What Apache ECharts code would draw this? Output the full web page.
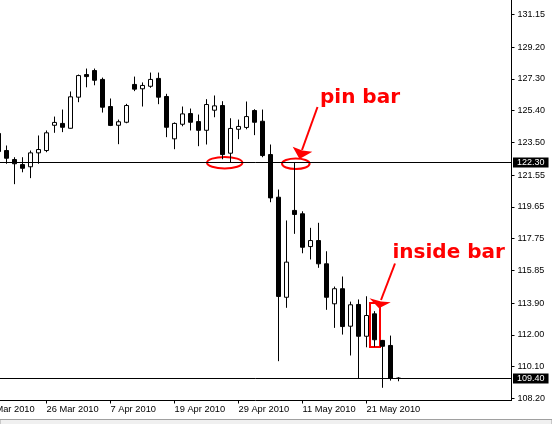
<!DOCTYPE html>
<html><head><meta charset="utf-8">
<script src="https://cdn.jsdelivr.net/npm/echarts@6/dist/echarts.min.js"></script>
<style>html,body{margin:0;padding:0;background:#fff}#c{width:552px;height:424px}</style>
</head><body><div id="c"></div>
<script>
// Trading days shown on the time axis (16 Mar 2010 .. 27 May 2010)
const dates = [
 '16 Mar 2010','17 Mar 2010','18 Mar 2010','19 Mar 2010','22 Mar 2010','23 Mar 2010','24 Mar 2010','25 Mar 2010','26 Mar 2010','29 Mar 2010','30 Mar 2010','31 Mar 2010',
 '1 Apr 2010','2 Apr 2010','5 Apr 2010','6 Apr 2010','7 Apr 2010','8 Apr 2010','9 Apr 2010','12 Apr 2010','13 Apr 2010','14 Apr 2010','15 Apr 2010','16 Apr 2010',
 '19 Apr 2010','20 Apr 2010','21 Apr 2010','22 Apr 2010','23 Apr 2010','26 Apr 2010','27 Apr 2010','28 Apr 2010','29 Apr 2010','30 Apr 2010',
 '3 May 2010','4 May 2010','5 May 2010','6 May 2010','7 May 2010','10 May 2010','11 May 2010','12 May 2010','13 May 2010','14 May 2010',
 '17 May 2010','18 May 2010','19 May 2010','20 May 2010','21 May 2010','24 May 2010','25 May 2010','26 May 2010','27 May 2010'
];
const firstBarDate = '18 Mar 2010';
const opens  = [124.04,123.02,122.48,122.18,122.05,122.88,123.02,124.53,124.64,124.35,126.21,127.56,127.80,127.27,125.65,124.53,124.71,126.97,126.71,126.86,127.33,126.25,123.72,124.59,125.23,124.75,124.23,125.43,125.71,122.86,124.29,124.40,125.41,124.77,122.78,120.23,114.25,119.44,119.24,117.28,117.64,116.25,113.86,114.76,112.52,113.82,111.92,113.26,111.67,111.37,109.42];
const highs  = [124.34,123.32,122.62,122.62,123.02,123.92,124.22,125.05,125.47,126.55,127.56,127.92,127.92,127.38,126.13,124.87,125.81,127.44,127.09,127.68,127.68,126.41,124.70,125.65,125.53,125.17,126.09,126.31,125.97,124.95,124.87,125.95,125.49,125.47,123.38,120.69,118.84,122.30,119.39,118.40,118.70,117.00,114.89,115.49,113.99,114.12,114.31,113.42,111.70,111.96,109.47];
const lows   = [122.72,122.23,121.01,121.72,121.37,122.23,122.92,124.08,124.12,124.33,125.91,126.80,126.92,125.29,124.48,123.40,124.65,126.57,125.65,126.77,125.79,123.82,123.10,124.47,124.22,123.28,123.38,125.01,122.50,122.30,123.70,124.29,123.94,122.62,119.93,110.43,113.62,118.04,116.88,116.51,116.01,113.50,112.42,112.02,110.77,109.38,111.26,111.30,108.84,109.27,109.23];
const closes = [122.96,122.56,122.23,121.96,122.88,123.08,124.08,124.70,124.41,126.23,127.50,127.44,127.22,125.61,124.52,124.74,125.71,126.69,126.91,127.27,126.21,124.41,124.64,125.21,124.71,124.23,125.77,125.69,122.78,124.34,124.46,125.05,124.71,122.72,120.19,114.30,116.35,119.20,117.24,117.64,116.25,114.25,114.76,112.50,113.80,111.92,113.16,111.71,111.32,109.41,109.40];
const yTicks = [131.15,129.20,127.30,125.40,123.50,121.55,119.65,117.75,115.85,113.90,112.00,110.10,108.20];
const xTickLabels = ['16 Mar 2010','26 Mar 2010','7 Apr 2010','19 Apr 2010','29 Apr 2010','11 May 2010','21 May 2010'];
const levelLines = [122.30, 109.40];
const notes = ['pin bar', 'inside bar'];

const start = dates.indexOf(firstBarDate);
const candleData = opens.map((o, i) => [start + i, o, closes[i], lows[i], highs[i]]);
const xTickPos = xTickLabels.map(l => dates.indexOf(l));

const chart = echarts.init(document.getElementById('c'), null, {renderer: 'canvas'});
const RED = '#ff0000';
const option = {
  animation: false,
  backgroundColor: '#ffffff',
  grid: {left: -21.5, right: 40.5, top: 0, bottom: 23.5, outerBoundsMode: 'none', containLabel: false},
  xAxis: {
    type: 'value', min: -0.5, max: 66.125,
    axisLine: {show: true, onZero: false, lineStyle: {color: '#000', width: 1}},
    axisTick: {show: true, customValues: xTickPos, length: 3, lineStyle: {color: '#000', width: 1}},
    axisLabel: {show: true, customValues: xTickPos, formatter: v => dates[Math.round(v)], align: 'left', margin: 4,
      color: '#000', fontFamily: 'Liberation Sans', fontSize: 9.3},
    splitLine: {show: false}
  },
  yAxis: {
    type: 'value', position: 'right', min: 108.08, max: 132.017,
    axisLine: {show: true, onZero: false, lineStyle: {color: '#000', width: 1}},
    axisTick: {show: true, customValues: yTicks, length: 3, lineStyle: {color: '#000', width: 1}},
    axisLabel: {show: true, customValues: yTicks, formatter: v => v.toFixed(2), margin: 6,
      color: '#000', fontFamily: 'Liberation Sans', fontSize: 9},
    splitLine: {show: false}
  },
  series: [{
    type: 'candlestick',
    data: candleData,
    encode: {x: 0, y: [1, 2, 3, 4]},
    barWidth: 4,
    itemStyle: {color: '#ffffff', color0: '#000000', borderColor: '#000000', borderColor0: '#000000', borderColorDoji: '#000000', borderWidth: 1},
    emphasis: {disabled: true},
    markLine: {
      silent: true, symbol: ['none', 'none'], animation: false,
      lineStyle: {color: '#000', width: 1, type: 'solid'},
      label: {show: true, position: 'end', formatter: p => Number(p.value).toFixed(2), color: '#fff', backgroundColor: '#000',
        padding: [1, 4, 0, 4], fontFamily: 'Liberation Sans', fontSize: 9, distance: 1.5},
      emphasis: {disabled: true},
      data: levelLines.map(v => ({yAxis: v}))
    }
  }],
  graphic: [
    {type: 'ellipse', shape: {cx: 224.7, cy: 162.7, rx: 17.7, ry: 5.7}, style: {fill: 'none', stroke: RED, lineWidth: 2}, silent: true},
    {type: 'ellipse', shape: {cx: 295.8, cy: 163.7, rx: 13.8, ry: 5.3}, style: {fill: 'none', stroke: RED, lineWidth: 2}, silent: true},
    {type: 'line', shape: {x1: 317.5, y1: 107, x2: 302, y2: 150}, style: {stroke: RED, lineWidth: 2}, silent: true},
    {type: 'polygon', shape: {points: [[292.7, 146.7], [302.3, 150.5], [312.3, 151.7], [299.5, 159]]}, style: {fill: RED}, silent: true},
    {type: 'line', shape: {x1: 395, y1: 263.5, x2: 381, y2: 300}, style: {stroke: RED, lineWidth: 2}, silent: true},
    {type: 'polygon', shape: {points: [[369.5, 298.3], [381, 301.5], [390.7, 302.3], [379, 308.3]]}, style: {fill: RED}, silent: true},
    {type: 'rect', shape: {x: 370, y: 303, width: 10, height: 44}, style: {fill: 'none', stroke: RED, lineWidth: 2}, silent: true},
    {type: 'text', style: {text: notes[0], x: 320, y: 97.6, verticalAlign: 'middle', align: 'left', font: 'bold 20px "DejaVu Sans"', fill: RED}, silent: true},
    {type: 'text', style: {text: notes[1], x: 392.5, y: 253.1, verticalAlign: 'middle', align: 'left', font: 'bold 20px "DejaVu Sans"', fill: RED}, silent: true},
    {type: 'rect', shape: {x: 0, y: 419.5, width: 552, height: 5}, style: {fill: '#f0f0f0', stroke: '#a0a0a0', lineWidth: 1}, silent: true}
  ]
};
chart.setOption(option);
</script>
</body></html>
